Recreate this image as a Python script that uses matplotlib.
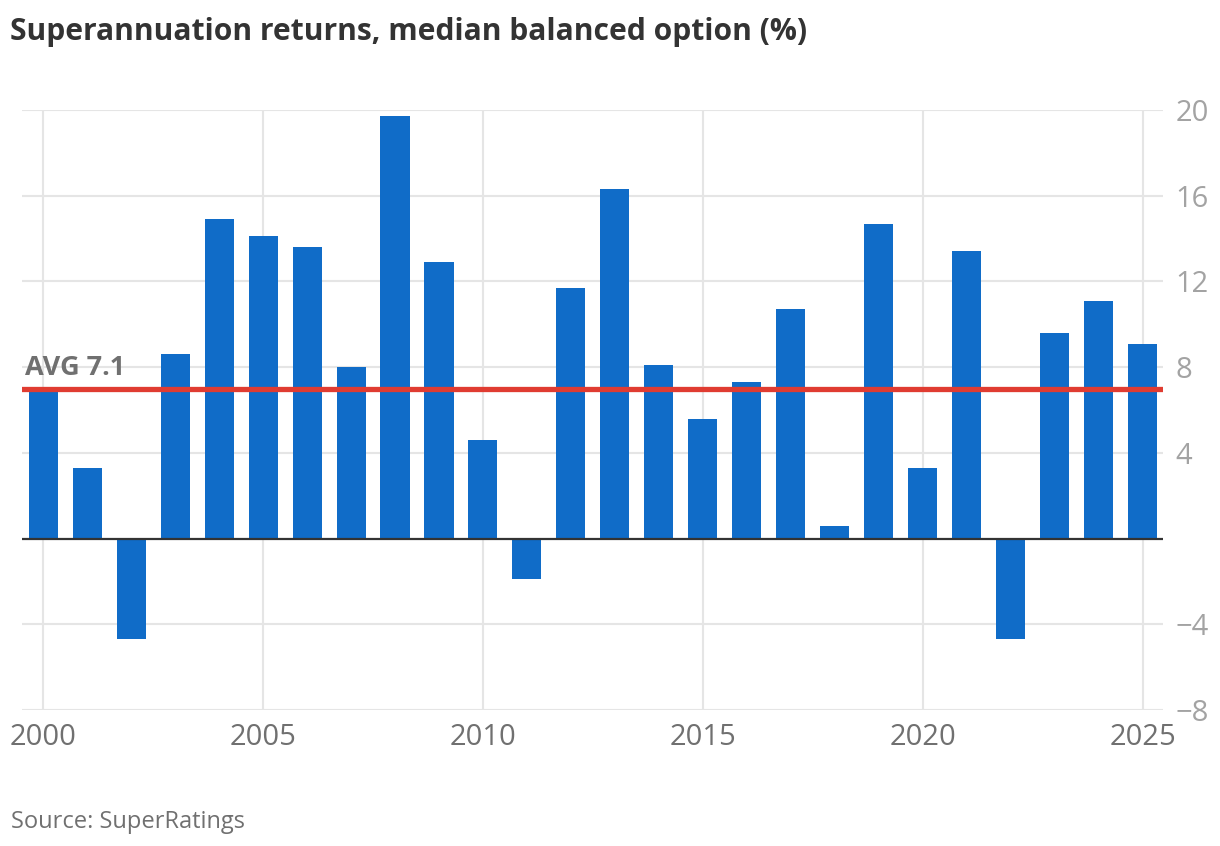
import matplotlib.pyplot as plt
import numpy as np

# Data
years = list(range(2000, 2026))
returns = [7.0, 3.3, -4.7, 8.6, 14.9, 14.1, 13.6, 8.0, 19.7, 12.9,
           4.6, -1.9, 11.7, 16.3, 8.1, 5.6, 7.3, 10.7, 0.6, 14.7,
           3.3, 13.4, -4.7, 9.6, 11.1, 9.1]
avg_value = 7.0
avg_label = "AVG 7.1"
x_ticks = [2000, 2005, 2010, 2015, 2020, 2025]
y_ticks = [-8, -4, 4, 8, 12, 16, 20]

title = "Superannuation returns, median balanced option (%)"
source = "Source: SuperRatings"

bar_color = "#106cc8"
avg_color = "#e03c31"
grid_color = "#e5e5e5"

plt.rcParams['font.family'] = ['Open Sans', 'DejaVu Sans']

fig = plt.figure(figsize=(12.2, 8.46), dpi=100)
ax = fig.add_axes([22 / 1220, 1 - 710 / 846, (1163 - 22) / 1220, 600 / 846])

ax.bar(years, returns, width=0.66, color=bar_color, zorder=3)

# average line + label
ax.axhline(avg_value, color=avg_color, lw=3.8, zorder=4)
ax.annotate(avg_label, xy=(0, avg_value), xycoords=('axes fraction', 'data'),
            xytext=(2, 10), textcoords='offset points', va='baseline', ha='left',
            fontsize=19.5, fontweight='bold', color='#707070', zorder=5)

# zero line
ax.axhline(0, color='#333333', lw=1.6, zorder=4)

ax.set_xlim(1999.52, 2025.46)
ax.set_ylim(-8, 20)
ax.set_xticks(x_ticks)
ax.set_yticks(y_ticks)
ax.yaxis.tick_right()
ax.set_yticklabels([str(v).replace('-', '\u2212') for v in y_ticks])

ax.tick_params(axis='y', length=0, pad=9, labelsize=21, labelcolor='#a3a3a3')
ax.tick_params(axis='x', length=0, pad=9, labelsize=21, labelcolor='#707070')

ax.grid(True, color=grid_color, lw=1.5, zorder=0)
ax.set_axisbelow(True)
for s in ax.spines.values():
    s.set_visible(False)

fig.text(10 / 1220, 1 - 40 / 846, title, fontsize=21.6, fontweight='bold',
         color='#333333', ha='left', va='baseline')
fig.text(11 / 1220, 1 - 828 / 846, source, fontsize=17, color='#707070',
         ha='left', va='baseline')

fig.savefig('out.png', dpi=100)
